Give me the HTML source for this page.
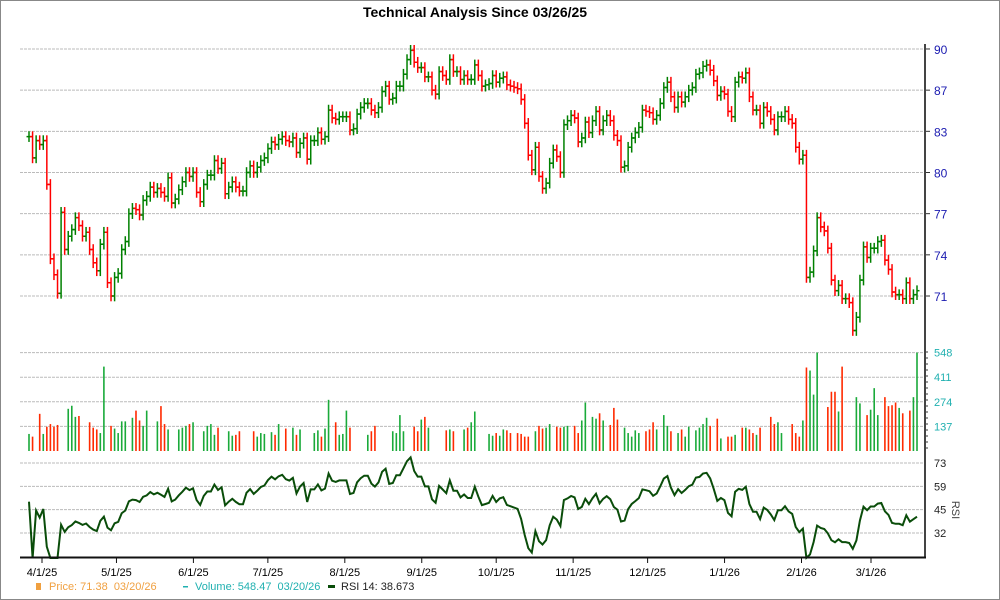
<!DOCTYPE html>
<html><head><meta charset="utf-8"><style>
html,body{margin:0;padding:0;background:#fff}
svg{display:block;font-family:"Liberation Sans",sans-serif}
</style></head><body>
<svg id="chart" width="1000" height="600" viewBox="0 0 1000 600">
<rect x="0.5" y="0.5" width="999" height="599" fill="#fff" stroke="#888"/>
<text x="475" y="17" text-anchor="middle" font-size="14" font-weight="bold" fill="#000">Technical Analysis Since 03/26/25</text>
<g id="grid"></g><g id="price"></g><g id="vol"></g><g id="rsi"></g><g id="axes"></g>
<g>
<rect x="36" y="583" width="5" height="7" fill="#f0a040"/>
<text x="49" y="590" font-size="11" fill="#f0a040">Price: 71.38&#160; 03/20/26</text>
<rect x="183" y="586" width="5" height="1.5" fill="#20b0b0"/>
<text x="195" y="590" font-size="11" fill="#20b0b0">Volume: 548.47&#160; 03/20/26</text>
<rect x="328" y="585" width="7" height="3" fill="#0a4d0a"/>
<text x="341" y="590" font-size="11" fill="#222">RSI 14: 38.673</text>
</g>
</svg>
<script>
const closes=[83.0,81.4,82.7,82.4,82.7,79.4,73.8,72.6,71.2,77.3,74.5,75.5,76.0,76.9,76.3,75.5,75.8,74.5,73.5,72.9,74.9,75.8,72.0,71.0,72.4,72.7,74.5,75.1,77.2,77.6,77.5,77.1,78.2,78.5,79.2,78.8,79.1,78.8,78.5,79.9,78.0,78.3,79.0,79.6,80.3,80.0,80.3,78.8,78.1,79.4,80.1,80.1,81.2,80.6,81.0,78.7,79.2,79.6,79.2,78.9,78.9,80.3,80.8,80.3,80.7,81.2,81.4,
82.1,82.6,82.4,82.8,83.0,82.7,82.6,82.9,81.8,82.5,82.9,81.3,82.7,82.7,83.3,82.8,83.0,85.0,84.4,84.3,84.5,84.5,84.5,83.5,83.6,84.7,85.2,85.5,85.5,85.0,84.8,85.2,86.4,86.8,85.8,85.9,86.8,86.8,87.7,88.8,89.5,88.6,88.2,88.2,87.5,87.5,86.5,86.2,87.9,87.6,87.3,88.8,87.9,87.9,87.3,87.6,87.3,87.3,88.4,87.6,86.8,86.9,87.0,87.6,
87.1,87.4,87.5,86.9,86.8,86.7,86.6,85.8,84.0,81.6,80.5,82.2,80.0,79.1,79.5,81.0,82.0,81.5,80.3,83.9,84.2,84.6,84.4,82.6,82.9,84.1,83.3,84.2,84.9,83.5,84.2,84.6,84.2,83.1,82.7,80.7,80.8,82.2,82.9,83.3,83.7,85.0,84.9,84.8,84.3,84.6,85.5,86.7,87.1,86.0,85.2,86.0,85.6,86.0,86.5,86.7,87.7,87.8,88.3,88.4,88.0,87.2,86.1,
86.4,86.2,84.9,84.5,87.1,87.5,87.4,87.8,86.0,85.0,85.0,84.0,85.2,84.9,84.3,83.5,84.5,84.5,84.9,84.3,84.0,82.2,81.3,81.6,72.4,72.8,74.4,76.9,76.2,75.9,74.6,72.2,71.4,71.8,70.8,70.8,70.5,68.4,69.4,72.2,74.7,73.9,74.6,74.6,75.1,75.2,73.7,73.0,71.3,71.1,71.1,70.8,72.0,70.8,71.1,71.4];
const volumes=[95,80,0,207,95,135,150,135,145,0,0,235,252,190,195,0,0,160,130,120,100,470,0,140,125,100,165,165,0,185,225,170,140,225,0,0,165,250,150,120,0,0,120,130,140,150,160,0,0,110,140,150,90,130,0,0,110,85,90,110,0,0,0,110,80,100,95,
0,105,90,150,0,125,0,130,90,120,0,0,0,100,115,80,125,285,0,160,90,95,225,130,0,0,0,0,90,110,140,0,0,0,0,110,100,200,110,0,0,135,110,175,190,130,0,0,0,0,115,120,110,0,0,120,130,160,220,0,0,0,95,85,
100,85,120,115,100,0,100,95,80,80,0,110,140,125,130,150,0,135,130,135,140,0,140,100,170,270,0,190,180,210,170,0,145,240,175,0,130,100,80,115,100,0,110,120,160,120,0,200,140,110,0,100,120,80,135,0,115,130,150,185,140,0,180,
70,0,80,80,90,0,130,130,120,100,90,130,0,0,190,150,160,100,0,0,150,100,80,170,465,448,314,548,0,0,245,330,330,220,470,0,0,0,300,265,0,200,230,350,200,0,300,250,255,270,240,210,0,225,300,548];
const priceTicks=[71,74.1,77.2,80.3,83.4,86.5,89.6];
const priceTickLabels=["71","74","77","80","83","87","90"];
const volTicks=[137,274,411,548];
const rsiTicks=[31.6,45.3,59,72.7];
const rsiTickLabels=["32","45","59","73"];
const monthDays=[6,36,67,97,128,159,189,220,250,281,312,340];
const monthLabels=["4/1/25","5/1/25","6/1/25","7/1/25","8/1/25","9/1/25","10/1/25","11/1/25","12/1/25","1/1/26","2/1/26","3/1/26"];

const NS="http://www.w3.org/2000/svg";
function mk(parent,tag,attrs){const e=document.createElementNS(NS,tag);for(const k in attrs)e.setAttribute(k,attrs[k]);parent.appendChild(e);return e;}
const N=closes.length;
const xBar=i=>29+i*(888/(N-1));
const yPrice=v=>296-(v-71)*41.17/3.1;
const yVol=v=>451-v*(24.6/137);
const yRsi=v=>463+(72.7-v)*(70/41.1);
const xDay=d=>42+(d-6)*2.482;

const grid=document.getElementById('grid');
priceTicks.forEach((t,i)=>{
 const l=mk(grid,'line',{x1:20,x2:925,y1:yPrice(t),y2:yPrice(t),stroke:'#bbb','stroke-dasharray':'3,1'});
 
 
 const tx=mk(grid,'text',{x:934,y:yPrice(t)+5,'font-size':12,fill:'#1a1ab0'});tx.textContent=priceTickLabels[i];
 
 
 mk(grid,'line',{x1:925,x2:930,y1:yPrice(t),y2:yPrice(t),stroke:'#333'});
});
volTicks.forEach(t=>{
 const l=mk(grid,'line',{x1:20,x2:925,y1:yVol(t),y2:yVol(t),stroke:'#bbb','stroke-dasharray':'3,1'});
 
 
 const tx=mk(grid,'text',{x:934,y:yVol(t)+4,'font-size':11,fill:'#20b0b0'});tx.textContent=String(t);
 
 
});
for(let y=352;y<451;y+=6)mk(grid,'line',{x1:925,x2:928,y1:y,y2:y,stroke:'#333'});
rsiTicks.forEach((t,i)=>{
 const l=mk(grid,'line',{x1:20,x2:925,y1:yRsi(t),y2:yRsi(t),stroke:'#bbb','stroke-dasharray':'3,1'});
 
 
 const tx=mk(grid,'text',{x:934,y:yRsi(t)+4,'font-size':11,fill:'#222'});tx.textContent=rsiTickLabels[i];
 
 
});

const pg=document.getElementById('price');
for(let i=0;i<N;i++){
 const c=closes[i],o=i>0?closes[i-1]:c;
 const hi=Math.max(o,c)+0.4,lo=Math.min(o,c)-0.4;
 const col=c>=o?'#008000':'#ff0000';
 const x=xBar(i);
 const g=mk(pg,'g',{stroke:col,'stroke-width':1.5});
 
 
 mk(g,'line',{x1:x,x2:x,y1:yPrice(hi),y2:yPrice(lo)});
 mk(g,'line',{x1:x-2.5,x2:x,y1:yPrice(o),y2:yPrice(o)});
 mk(g,'line',{x1:x,x2:x+2.5,y1:yPrice(c),y2:yPrice(c)});
}
const vg=document.getElementById('vol');
for(let i=0;i<N&&i<volumes.length;i++){
 if(!volumes[i])continue;
 const up=i==0||closes[i]>=closes[i-1];
 const r=mk(vg,'rect',{x:xBar(i)-0.8,y:yVol(volumes[i]),width:1.6,height:451-yVol(volumes[i]),fill:up?'#1aaa3a':'#ff2a00'});
 
 
}
const rsi=[];let ag=0,al=0;
for(let i=0;i<N;i++){
 if(i==0){rsi.push(50);continue;}
 const d=closes[i]-closes[i-1],g=Math.max(d,0),l=Math.max(-d,0);
 const p=Math.min(i,14);ag=(ag*(p-1)+g)/p;al=(al*(p-1)+l)/p;
 rsi.push(al==0?100:100-100/(1+ag/al));
}
const rg=document.getElementById('rsi');
const pts=rsi.map((v,i)=>xBar(i).toFixed(1)+','+Math.min(558,Math.max(456,yRsi(v))).toFixed(1)).join(' ');
const pl=mk(rg,'polyline',{points:pts,fill:'none',stroke:'#0a4d0a','stroke-width':2});


const rl=mk(rg,'text',{x:952,y:510,'font-size':11,fill:'#444',transform:'rotate(90 952 510)','text-anchor':'middle'});rl.textContent='RSI';



const ax=document.getElementById('axes');
const ya=mk(ax,'line',{x1:925,x2:925,y1:44,y2:558,stroke:'#444','stroke-width':2});


const xa=mk(ax,'line',{x1:20,x2:926,y1:557.5,y2:557.5,stroke:'#111','stroke-width':2});


monthDays.forEach((d,i)=>{
 const x=xDay(d);
 mk(ax,'line',{x1:x,x2:x,y1:558,y2:563,stroke:'#111'});
 const t=mk(ax,'text',{x:x,y:576,'font-size':11,fill:'#000','text-anchor':'middle'});t.textContent=monthLabels[i];
 
 
});
</script>
</body></html>
